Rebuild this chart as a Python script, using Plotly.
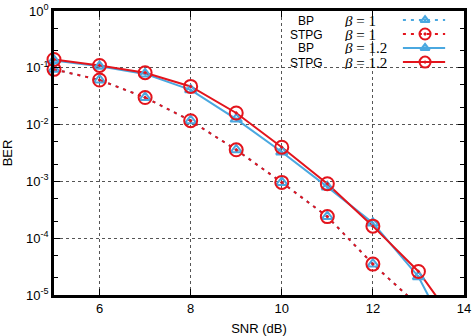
import plotly.graph_objects as go

# SNR grid (dB)
snr = [5, 6, 7, 8, 9, 10, 11, 12, 13, 14]
snr_b1 = [5, 6, 7, 8, 9, 10, 11, 12, 13]

# BER curves
bp_b1 = [0.094, 0.061, 0.030, 0.0117, 0.0036, 0.00096, 0.00024, 3.5e-5, 6.5e-6]
stpg_b1 = [0.094, 0.061, 0.030, 0.0117, 0.0036, 0.00096, 0.00024, 3.5e-5, 6.5e-6]
bp_b12 = [0.135, 0.106, 0.078, 0.041, 0.0125, 0.0033, 0.0008, 0.000185, 2.1e-5, 6e-7]
stpg_b12 = [0.140, 0.110, 0.082, 0.047, 0.016, 0.0040, 0.00091, 0.000163, 2.6e-5, 2e-6]

legend_names = ["BP", "STPG", "BP", "STPG"]
legend_betas = ["1", "1", "1.2", "1.2"]

Y_MIN = 1e-5
BLUE = "#4aa8e0"
RED = "#e3141c"
DOTTED = "3px,5px"

styles = [
    dict(color=BLUE, dash=DOTTED, symbol="triangle-up-open-dot", size=10),
    dict(color=RED, dash=DOTTED, symbol="circle-open-dot", size=13),
    dict(color=BLUE, dash="solid", symbol="triangle-up-open-dot", size=10),
    dict(color=RED, dash="solid", symbol="circle-open-dot", size=13),
]
series = [(snr_b1, bp_b1), (snr_b1, stpg_b1), (snr, bp_b12), (snr, stpg_b12)]

fig = go.Figure()
for (xs, ys), st in zip(series, styles):
    # lines are clipped to the plot area
    fig.add_trace(go.Scatter(
        x=xs, y=ys, mode="lines", cliponaxis=True,
        line=dict(color=st["color"], width=2, dash=st["dash"]),
        showlegend=False,
    ))
for (xs, ys), st in zip(series, styles):
    # markers may overhang the frame; only points inside the y range
    keep = [(x, y) for x, y in zip(xs, ys) if y >= Y_MIN]
    fig.add_trace(go.Scatter(
        x=[p[0] for p in keep], y=[p[1] for p in keep], mode="markers",
        cliponaxis=False,
        marker=dict(symbol=st["symbol"], size=st["size"], color=st["color"],
                    line=dict(width=2, color=st["color"])),
        showlegend=False,
    ))

# key: sample line + marker on an overlay axis spanning the plot area
row_y = [0.968, 0.919, 0.870, 0.820]
fig.add_shape(type="rect", xref="paper", yref="paper", x0=0.57, x1=0.98,
              y0=0.79, y1=0.995, fillcolor="white", line=dict(width=0),
              layer="between")
for yk, st in zip(row_y, styles):
    fig.add_trace(go.Scatter(
        x=[0.851, 0.954], y=[yk, yk], mode="lines", xaxis="x2", yaxis="y2",
        line=dict(color=st["color"], width=2, dash=st["dash"]), showlegend=False,
        hoverinfo="skip",
    ))
    fig.add_trace(go.Scatter(
        x=[0.905], y=[yk], mode="markers", xaxis="x2", yaxis="y2",
        marker=dict(symbol=st["symbol"], size=st["size"] - 2, color=st["color"],
                    line=dict(width=2, color=st["color"])),
        showlegend=False, hoverinfo="skip",
    ))

for yk, nm, bt in zip(row_y, legend_names, legend_betas):
    fig.add_annotation(x=0.615, y=yk, xref="paper", yref="paper", text=nm,
                       showarrow=False, xanchor="center", yanchor="middle",
                       height=13, borderpad=0,
                       font=dict(family="Liberation Sans", size=12, color="black"))
    fig.add_annotation(x=0.705, y=yk, xref="paper", yref="paper",
                       text="<i>β</i> = " + bt, height=13, borderpad=0,
                       showarrow=False, xanchor="left", yanchor="middle",
                       font=dict(family="Liberation Serif", size=15, color="black"))

y_ticks = [1, 0.1, 0.01, 0.001, 1e-4, 1e-5]
y_text = ["10<sup>0</sup>", "10<sup>-1</sup>", "10<sup>-2</sup>",
          "10<sup>-3</sup>", "10<sup>-4</sup>", "10<sup>-5</sup>"]
x_ticks = [6, 8, 10, 12, 14]

fig.update_layout(
    width=474, height=336,
    margin=dict(l=54, r=10, t=11, b=41),
    plot_bgcolor="white", paper_bgcolor="white",
    font=dict(family="Liberation Sans", size=13, color="black"),
    xaxis=dict(
        range=[5, 14], tickvals=x_ticks, ticks="inside", ticklen=6,
        tickcolor="black", showline=True, linecolor="black", linewidth=2.5,
        mirror="ticks", showgrid=True, gridcolor="#555", griddash="dot",
        gridwidth=1, zeroline=False, automargin=False,
        title=dict(text="SNR (dB)", standoff=9, font=dict(size=13)),
    ),
    yaxis=dict(
        type="log", range=[-5, 0], tickvals=y_ticks, ticktext=y_text,
        ticks="inside", ticklen=6, tickcolor="black", showline=True,
        linecolor="black", linewidth=2.5, mirror="ticks", showgrid=True,
        gridcolor="#555", griddash="dot", gridwidth=1, zeroline=False,
        automargin=False,
        minor=dict(ticks="inside", ticklen=4, tickcolor="black",
                   tickvals=[m * 10 ** e for e in range(-5, 0) for m in (2, 5)],
                   showgrid=False),
        title=dict(text="BER", standoff=12, font=dict(size=13)),
    ),
    xaxis2=dict(range=[0, 1], overlaying="x", visible=False, fixedrange=True),
    yaxis2=dict(range=[0, 1], overlaying="y", visible=False, fixedrange=True),
)

fig.write_html("out.html")
